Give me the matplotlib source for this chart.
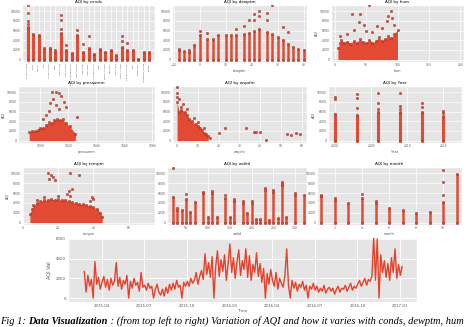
import numpy as np
import pandas as pd
import matplotlib
matplotlib.use('Agg')
import matplotlib.pyplot as plt
import matplotlib.dates as mdates

plt.style.use('ggplot')

W, H = 474, 327
RED = '#E24A33'
DARK = '#8E2A1C'

# ---------------- data ----------------
conds_names = ['Blowing Sand', 'Clear', 'Drizzle', 'Fog', 'Funnel Cloud', 'Haze',
               'Heavy Fog', 'Heavy Rain', 'Heavy Thunderstorm', 'Light Drizzle',
               'Light Fog', 'Light Rain', 'Light Thunderstorm', 'Mist', 'Mostly Cloudy',
               'Overcast', 'Partial Fog', 'Partly Cloudy', 'Patches of Fog', 'Rain',
               'Sandstorm', 'Scattered Clouds', 'Smoke']
conds_top = [6800, 5400, 5100, 2300, 2400, 1500, 5600, 2000, 1300, 5000, 1500, 2300,
             1200, 2100, 1500, 1900, 850, 2600, 1900, 2000, 150, 1500, 1500]
conds_out_i = [0, 0, 0, 0, 6, 6, 6, 7, 9, 10, 11, 17, 17, 18, 5]
conds_out_y = [7900, 9600, 11200, 7300, 8200, 9300, 6400, 3000, 6100, 3200, 4900, 4900, 3800, 3400, 1900]

dew_x = [-8, -6, -4, -2, 0, 3, 5, 7, 10, 12, 14, 17, 19, 21, 23, 26, 28, 30, 32, 34, 36, 38, 40]
dew_top = [1900, 1750, 1550, 2950, 5050, 4350, 4350, 5050, 5050, 5050, 5050, 5400,
           5550, 6000, 6250, 5750, 5400, 4600, 4000, 3150, 2600, 2250, 2050]
dew_out_x = [17, 19, 21, 21, 23, 23, 26, 26, 28, 32, 34, -8, -4, 0, 3, 14]
dew_out_y = [7000, 8200, 9500, 8200, 10000, 9000, 9600, 8200, 11200, 6800, 5700, 2200, 2000, 5900, 5500, 6300]

hum_x = [5, 8, 10, 15, 20, 25, 30, 35, 40, 45, 50, 55, 60, 65, 70, 75, 80, 85, 90, 95, 100]
hum_top = [2300, 3400, 4100, 3500, 3700, 3300, 3900, 3500, 4300, 3600, 3400, 4100,
           3500, 3800, 4600, 3900, 4200, 4800, 4400, 5400, 6100]
hum_out_x = [27, 40, 54, 38, 46, 89, 92, 85, 68, 8, 84, 30, 60, 75, 95, 20, 50]
hum_out_y = [9500, 9500, 11200, 7700, 7200, 10000, 8600, 9000, 7000, 4900, 8000, 6200, 5800, 6500, 7200, 5300, 6000]

pres_x = [992, 994, 996, 998, 1000, 1002, 1004, 1006, 1008, 1010, 1012, 1014, 1016, 1018, 1021, 1025]
pres_top = [1700, 2000, 1900, 2200, 2700, 2600, 3200, 3800, 3600, 4300, 4500, 4200, 4400, 3600, 3000, 1400]
pres_out_x = [1008, 1011, 1013, 1015, 1009, 1007, 1011, 1013, 1006, 1004, 1002, 1017, 1018, 1026]
pres_out_y = [10100, 10000, 9800, 9300, 8700, 7700, 7300, 6600, 6200, 5200, 4500, 8000, 6900, 4800]

ws_x = [0, 1, 2, 4, 5, 6, 7, 9, 10, 11, 12, 13, 14, 15]
ws_top = [8000, 6000, 6400, 5900, 5200, 4500, 4000, 3400, 3000, 2700, 2200, 1600, 1300, 900]
ws_out_x = [0, 0, 0, 1, 3, 2, 5, 8, 10, 13, 16, 20, 23, 33, 37, 38, 40, 43, 53, 55, 57, 59]
ws_out_y = [11000, 9800, 9000, 8600, 7500, 7000, 6500, 4700, 3800, 2600, 600, 1600, 2700,
            2700, 1800, 1800, 1800, 200, 1300, 1100, 1600, 1300]

year_x = [2000, 2003, 2006, 2009, 2012, 2015]
year_top = [5500, 5200, 6000, 5900, 5900, 5000]
year_out_x = [2000, 2000, 2003, 2003, 2003, 2006, 2006, 2006, 2009, 2009, 2009, 2012, 2012, 2015, 2015]
year_out_y = [8700, 9100, 8900, 9600, 6700, 9800, 7700, 6600, 9800, 7100, 6600, 7700, 7000, 6200, 5800]

temp_x = [4, 5, 6, 8, 10, 12, 14, 16, 18, 20, 22, 24, 26, 28, 30, 32, 34, 36, 38, 40, 42, 44, 45]
temp_top = [1800, 2700, 3500, 4000, 4300, 4600, 4500, 4800, 4600, 4700, 4500, 4600,
            4300, 4100, 4000, 3800, 3700, 3500, 3400, 3100, 2800, 2000, 1200]
temp_out_x = [14, 16, 17, 18, 15, 27, 32, 25, 26, 28, 27, 38, 39, 40, 8, 12, 20]
temp_out_y = [10000, 9650, 9300, 8600, 8950, 10000, 9650, 5800, 6500, 6850, 5450, 4400, 5100, 4750, 4500, 5200, 5500]

wd_x = [20, 30, 40, 50, 60, 70, 90, 100, 110, 120, 140, 150, 160, 180, 190, 200, 210,
        220, 230, 240, 250, 260, 270, 280, 300, 320]
wd_top = [5240, 2520, 2520, 4690, 2180, 4220, 5920, 1160, 5920, 1160, 4900, 1160, 4420,
          4010, 1840, 3880, 820, 820, 6600, 480, 6260, 1020, 7620, 1160, 5580, 5580]
wd_out_x = [20, 30, 50, 90, 140, 160, 180, 230, 250, 270, 270, 300, 110, 200]
wd_out_y = [11000, 2900, 5900, 6300, 5600, 4700, 4300, 7000, 6700, 8300, 7900, 6000, 6400, 4300]

month_x = [1, 2, 3, 4, 5, 6, 7, 8, 9, 10, 11]
month_top = [5400, 4560, 3880, 4900, 3880, 2860, 2520, 1840, 2180, 4220, 9860]
month_out_x = [1, 2, 4, 5, 10, 10, 10]
month_out_y = [5600, 4900, 5800, 4300, 5600, 8300, 10700]

# AQI over time, one reading about every 4 days
aqi_val = [2700, 600, 2300, 1200, 1900, 0, 3700, 1400, 2100, 900,
           1600, 2200, 1100, 1900, 800, 2000, 1300, 1700,
           3600, 1200, 2100, 900, 1800, 1400, 2300, 0,
           1700, 1000, 2000, 1300, 1600, 700, 2600, 1100,
           1300, 800, 1500, 1000, 1200, 0, 900, 1400,
           600, 300, 900, 200, 1100, 500, 1400, 800,
           1500, 900, 1800, 1100, 1300, 0, 1600, 1200,
           1700, 1200, 2000, 1500, 1800, 2600, 1400, 2200,
           2800, 1900, 4500, 2400, 3600, 2100, 4200, 0,
           3200, 4800, 2200, 3900, 2700, 4400, 1800, 3500,
           5500, 2600, 4100, 2000, 3700, 4900, 2300, 3800,
           2900, 5000, 2100, 4300, 1800, 3400, 2600, 4600,
           2200, 3500, 1600, 3000, 0, 2500, 1400, 2900,
           1800, 1200, 2600, 900, 2000, 1500, 1100, 2300,
           5000, 1300, 0, 1800, 1000, 1600, 700, 1400,
           1100, 1700, 800, 1300, 0, 1200, 900, 1500,
           800, 1200, 600, 1000, 700, 1300, 500, 900,
           1100, 700, 1000, 400, 900, 1200, 600, 1000,
           900, 1300, 700, 1100, 1500, 800, 1200, 1000,
           1400, 1800, 1200, 1600, 2000, 1300, 1900, 1700,
           2200, 6200, 1800, 6000, 0, 4400, 2600, 3800,
           2100, 3500, 1800, 4100, 2600, 5000, 2000, 3400,
           2300, 3200]
aqi_time = pd.date_range('2015-02-22', '2017-01-05', periods=len(aqi_val))

caption_parts = ['Fig 1: ', 'Data Visualization',
                 ' : (from top left to right) Variation of AQI and how it varies with conds, dewptm, hum']


def rect(l, t, r, b):
    return [l / W, 1 - b / H, (r - l) / W, (b - t) / H]


def dress(ax, title, xlabel=None, ylabel=None, ylim=(-500, 11300)):
    ax.set_title(title, fontsize=3, pad=1.2)
    ax.tick_params(labelsize=2.2, length=0, pad=1)
    ax.grid(color='white', lw=0.5)
    ax.set_ylim(*ylim)
    ax.set_yticks(range(0, 10001, 2000))
    if xlabel:
        ax.set_xlabel(xlabel, fontsize=2.4, labelpad=1)
    if ylabel:
        ax.set_ylabel(ylabel, fontsize=2.4, labelpad=1)


def pts(ax, x, y, s=3):
    ax.scatter(x, y, s=s, c=RED, edgecolors=DARK, linewidths=0.3, zorder=3)


def strips(ax, x, top, ox, oy, lw=1.8):
    ax.vlines(x, 0, top, color=RED, lw=lw, zorder=2)
    pts(ax, x, top)
    pts(ax, x, [0] * len(x))
    pts(ax, ox, oy)


def cloud(ax, x, top, ox, oy):
    ax.fill_between(x, 0, top, color=RED, lw=0, zorder=2)
    pts(ax, x, top)
    pts(ax, ox, oy)


fig = plt.figure(figsize=(W / 100, H / 100), dpi=100)
fig.patch.set_facecolor('white')

# row 1
ax = fig.add_axes(rect(22, 5, 155, 62))
strips(ax, range(len(conds_names)), conds_top, conds_out_i, conds_out_y, lw=2.2)
ax.set_xticks(range(len(conds_names)))
ax.set_xticklabels(conds_names, rotation=90)
ax.set_xlim(-1, len(conds_names))
dress(ax, 'AQI by conds')
ax.tick_params(axis='x', labelsize=1.6)

ax = fig.add_axes(rect(172, 5, 307, 62))
strips(ax, dew_x, dew_top, dew_out_x, dew_out_y)
ax.set_xlim(-10.6, 41.3)
ax.set_xticks(range(-10, 41, 10))
dress(ax, 'AQI by dewptm', xlabel='dewptm')

ax = fig.add_axes(rect(331, 5, 464, 62))
cloud(ax, hum_x, hum_top, hum_out_x, hum_out_y)
ax.set_xlim(-6, 206)
ax.set_xticks(range(0, 201, 50))
dress(ax, 'AQI by hum', xlabel='hum', ylabel='AQI')

# row 2
ax = fig.add_axes(rect(18, 86, 155, 143))
cloud(ax, pres_x, pres_top, pres_out_x, pres_out_y)
ax.set_xlim(984, 1082)
ax.set_xticks(range(1000, 1081, 20))
dress(ax, 'AQI by pressurem', xlabel='pressurem', ylabel='AQI')

ax = fig.add_axes(rect(172, 86, 307, 143))
cloud(ax, ws_x, ws_top, ws_out_x, ws_out_y)
ax.set_xlim(-2.4, 62.5)
ax.set_xticks(range(0, 61, 10))
dress(ax, 'AQI by wspdm', xlabel='wspdm')

ax = fig.add_axes(rect(328, 86, 462, 143))
strips(ax, year_x, year_top, year_out_x, year_out_y, lw=2.2)
ax.set_xlim(1999, 2017.6)
ax.set_xticks(range(2000, 2016, 5))
dress(ax, 'AQI by Year', xlabel='Year', ylabel='AQI')

# row 3
ax = fig.add_axes(rect(22, 167, 155, 225))
cloud(ax, temp_x, temp_top, temp_out_x, temp_out_y)
ax.set_xlim(-0.5, 75)
ax.set_xticks(range(0, 61, 20))
dress(ax, 'AQI by tempm', xlabel='tempm', ylabel='AQI')

ax = fig.add_axes(rect(167, 167, 307, 225))
strips(ax, wd_x, wd_top, wd_out_x, wd_out_y)
ax.set_xlim(6.5, 327)
ax.set_xticks(range(50, 301, 50))
dress(ax, 'AQI by wdird', xlabel='wdird')

ax = fig.add_axes(rect(317, 167, 462, 225))
strips(ax, month_x, month_top, month_out_x, month_out_y)
ax.set_xlim(0.67, 11.4)
ax.set_xticks(range(2, 11, 2))
dress(ax, 'AQI by month', xlabel='month')

# time series
ax = fig.add_axes(rect(68, 238, 417, 302))
ax.plot(aqi_time, aqi_val, color='#E8412B', lw=1.0, zorder=3)
ax.set_xlim(pd.Timestamp('2015-01-18'), pd.Timestamp('2017-02-06'))
ax.set_ylim(-400, 6100)
ax.set_yticks(range(0, 6001, 2000))
ax.xaxis.set_major_locator(mdates.MonthLocator(bymonth=[1, 4, 7, 10]))
ax.xaxis.set_major_formatter(mdates.DateFormatter('%Y-%m'))
ax.tick_params(labelsize=2.8, length=0, pad=1.5)
ax.grid(color='white', lw=0.6)
ax.set_xlabel('Time', fontsize=3.0, labelpad=0.5)
ax.set_ylabel('AQI Val', fontsize=3.6, labelpad=3)

# caption, bold part in the middle
cap_size = 7.5
prev = fig.text(0.0, 1 - 324 / H, caption_parts[0], fontsize=cap_size,
                family='Liberation Serif', style='italic', va='baseline')
for i, part in enumerate(caption_parts[1:]):
    prev = fig.add_artist(plt.Annotation(part, xy=(1, 0), xycoords=prev,
                                         fontweight='bold' if i == 0 else 'normal',
                                         fontsize=cap_size, family='Liberation Serif',
                                         style='italic', va='bottom'))

fig.savefig('out.png', dpi=100, facecolor='white')
